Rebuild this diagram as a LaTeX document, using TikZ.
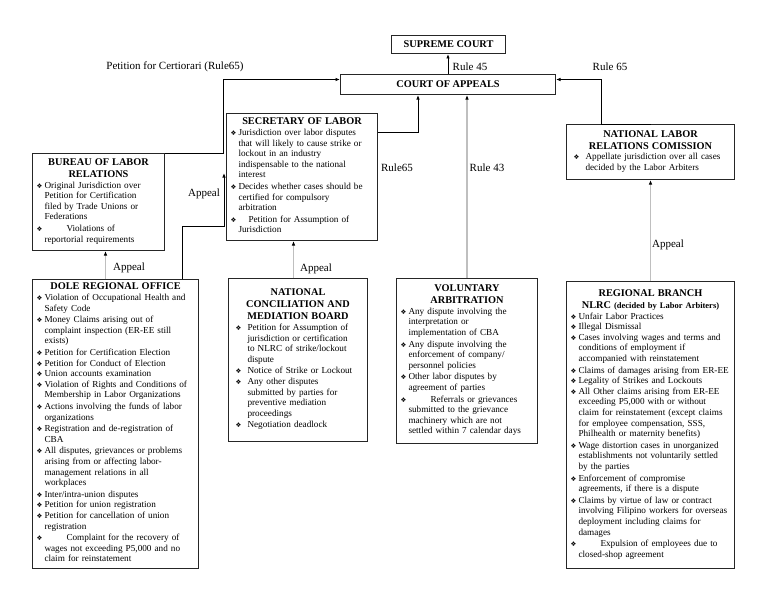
\documentclass[tikz,border=0pt]{standalone}
\usepackage{fontspec}
\setmainfont{Liberation Serif}
\newfontfamily\bulfont{DejaVu Sans}
\usetikzlibrary{arrows.meta}

\newcommand{\bul}{{\bulfont\fontsize{6.5}{6.5}\selectfont\char"2756}}
\newcommand{\ttl}[1]{{\centering\bfseries\fontsize{10.3}{12}\selectfont #1\par}}
\newcommand{\itm}[1]{\par\noindent\makebox[8pt][l]{\bul}\begin{tabular}[t]{@{}l@{}}#1\end{tabular}}
\newcommand{\itmw}[1]{\par\noindent\makebox[15pt][l]{\hspace{3pt}\bul}\begin{tabular}[t]{@{}l@{}}#1\end{tabular}}

\begin{document}
\begin{tikzpicture}%
	[
	x=1pt,
	y=-1pt,
	box/.style={draw=black!85, line width=1pt, fill=white, anchor=north west, inner xsep=4pt, inner ysep=3pt, align=left, font=\fontsize{9.2}{10.6}\selectfont},
	court/.style={draw=black!85, line width=1pt, anchor=north west, inner sep=0pt, font=\bfseries\fontsize{10.3}{12}\selectfont},
	lbl/.style={font=\fontsize{11}{13}\selectfont, inner sep=1pt},
	conn/.style={draw=black, line width=1pt, -{Latex[length=4.5pt,width=3.5pt]}},
	gconn/.style={draw=black!25, line width=1.2pt, -{Latex[length=4.5pt,width=3.5pt,color=black]}}]

\useasboundingbox (0,0) rectangle (768,594);

% courts
\node[court, minimum width=114pt, minimum height=18pt] (sc) at (391,35) {SUPREME COURT};
\node[court, minimum width=215pt, minimum height=20pt] (coa) at (340,74) {COURT OF APPEALS};

% upper boxes
\node[box, text width=124pt, minimum height=97pt] (blr) at (32,153) {%
\ttl{BUREAU OF LABOR\\RELATIONS}
\itm{Original Jurisdiction over\\Petition for Certification\\filed by Trade Unions or\\Federations}
\itm{\hspace*{22pt}Violations of\\reportorial requirements}};

\node[box, text width=143pt, minimum height=127pt] (sol) at (226,113) {%
\ttl{SECRETARY OF LABOR}
\itm{Jurisdiction over labor disputes\\that will likely to cause strike or\\lockout in an industry\\indispensable to the national\\interest}
\itm{Decides whether cases should be\\certified for compulsory\\arbitration}
\itm{\hspace*{10pt}Petition for Assumption of\\Jurisdiction}};

\node[box, text width=160pt, minimum height=55pt] (nlrc) at (566,124) {%
\ttl{NATIONAL LABOR\\RELATIONS COMISSION}
\itmw{Appellate jurisdiction over all cases\\decided by the Labor Arbiters}};

% lower boxes
\node[box, text width=158pt, minimum height=289pt] (dole) at (32,279) {%
\ttl{DOLE REGIONAL OFFICE}
\itm{Violation of Occupational Health and\\Safety Code}
\itm{Money Claims arising out of\\complaint inspection (ER-EE still\\exists)}
\itm{Petition for Certification Election}
\itm{Petition for Conduct of Election}
\itm{Union accounts examination}
\itm{Violation of Rights and Conditions of\\Membership in Labor Organizations}
\itm{Actions involving the funds of labor\\organizations}
\itm{Registration and de-registration of\\CBA}
\itm{All disputes, grievances or problems\\arising from or affecting labor-\\management relations in all\\workplaces}
\itm{Inter/intra-union disputes}
\itm{Petition for union registration}
\itm{Petition for cancellation of union\\registration}
\itm{\hspace*{22pt}Complaint for the recovery of\\wages not exceeding P5,000 and no\\claim for reinstatement}};

\node[box, text width=131pt, minimum height=163pt] (ncmb) at (228,278) {%
\ttl{NATIONAL\\CONCILIATION AND\\MEDIATION BOARD}
\itmw{Petition for Assumption of\\jurisdiction or certification\\to NLRC of strike/lockout\\dispute}
\itmw{Notice of Strike or Lockout}
\itmw{Any other disputes\\submitted by parties for\\preventive mediation\\proceedings}
\itmw{Negotiation deadlock}};

\node[box, text width=133pt, minimum height=165pt] (va) at (396,278) {%
\ttl{VOLUNTARY\\ARBITRATION}
\itm{Any dispute involving the\\interpretation or\\implementation of CBA}
\itm{Any dispute involving the\\enforcement of company/\\personnel policies}
\itm{Other labor disputes by\\agreement of parties}
\itm{\hspace*{22pt}Referrals or grievances\\submitted to the grievance\\machinery which are not\\settled within 7 calendar days}};

\node[box, text width=160pt, minimum height=287pt] (rb) at (566,281) {%
\ttl{REGIONAL BRANCH\\NLRC {\fontsize{8.5}{12}\selectfont (decided by Labor Arbiters)}}
\itm{Unfair Labor Practices}
\itm{Illegal Dismissal}
\itm{Cases involving wages and terms and\\conditions of employment if\\accompanied with reinstatement}
\itm{Claims of damages arising from ER-EE}
\itm{Legality of Strikes and Lockouts}
\itm{All Other claims arising from ER-EE\\exceeding P5,000 with or without\\claim for reinstatement (except claims\\for employee compensation, SSS,\\Philhealth or maternity benefits)}
\itm{Wage distortion cases in unorganized\\establishments not voluntarily settled\\by the parties}
\itm{Enforcement of compromise\\agreements, if there is a dispute}
\itm{Claims by virtue of law or contract\\involving Filipino workers for overseas\\deployment including claims for\\damages}
\itm{\hspace*{22pt}Expulsion of employees due to\\closed-shop agreement}};

% labels
\node[lbl] (certiorari) at (175,67) {Petition for Certiorari (Rule65)};
\node[lbl] (rule45) at (470,67) {Rule 45};
\node[lbl] (rule65r) at (610,67) {Rule 65};
\node[lbl] (rule65s) at (397,168) {Rule65};
\node[lbl] (rule43) at (487,168) {Rule 43};
\node[lbl] (appealsol) at (204,194) {Appeal};
\node[lbl] (appealblr) at (129,268) {Appeal};
\node[lbl] (appealncmb) at (316,269) {Appeal};
\node[lbl] (appealnlrc) at (668,245) {Appeal};

\coordinate (dolel) at ([xshift=-10pt]dole.north);
\coordinate (ncmbt) at ([xshift=-4.5pt]ncmb.north);

% connectors
\draw[conn] (coa.north) -- (coa.north |- sc.south);
\draw[conn] (blr.north east) -- ++(58,0) |- ([yshift=5pt]coa.west);
\draw[conn] ([yshift=-19pt]sol.north east) -| ([xshift=-30pt]coa.south);
\draw[conn] (nlrc.north) -- ++(-49,0) |- ([yshift=5pt]coa.east);
\draw[conn] ([xshift=67pt]dole.north) |- ([xshift=-2pt,yshift=15pt]sol.south west) -- ([xshift=-2pt,yshift=4pt]sol.west);
\draw[gconn] (va.north) -- (va.north |- coa.south);
\draw[gconn] (rb.north) -- (nlrc.south);
\draw[gconn] (dolel) -- (dolel |- blr.south);
\draw[gconn] (ncmbt) -- (ncmbt |- sol.south);
\end{tikzpicture}
\end{document}
